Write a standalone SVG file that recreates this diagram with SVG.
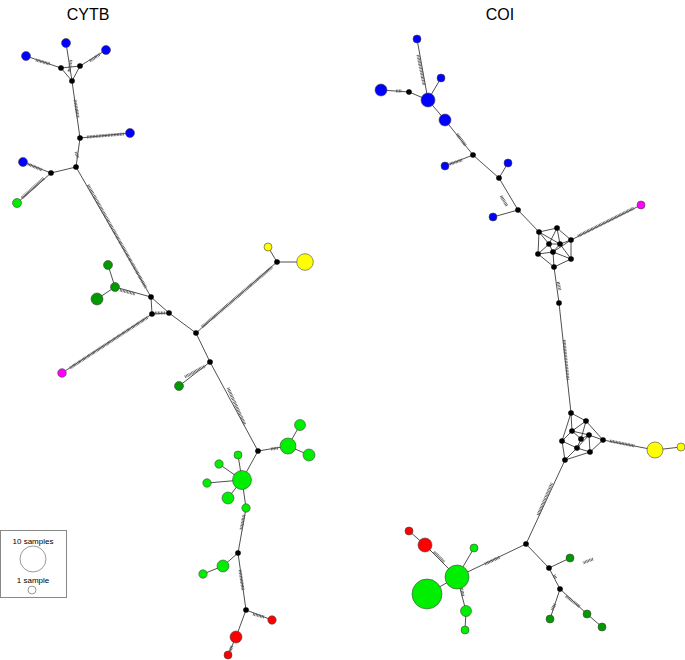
<svg xmlns="http://www.w3.org/2000/svg" width="685" height="660" viewBox="0 0 685 660">
<style>
.e{stroke:#222;stroke-width:0.8;fill:none}
.h{stroke:#555;stroke-width:3;stroke-dasharray:0.8 0.7;fill:none}
.n{stroke:#444;stroke-width:0.6}
.k{fill:#000}.b{fill:#0000ff}.g{fill:#00ee00}.d{fill:#009900}.y{fill:#ffff00}.r{fill:#ff0000}.m{fill:#ff00ff}
text{font-family:"Liberation Sans",Arial,sans-serif;fill:#000}
</style>
<rect width="685" height="660" fill="#fff"/>
<text x="88" y="20" font-size="16" text-anchor="middle">CYTB</text>
<text x="500" y="20" font-size="16" text-anchor="middle">COI</text>
<g id="connectors">
<path class="e" d="M26,56L61,68L80,66L106,50M61,68L72,81L80,66M66,43L72,81L80,138L130,133M80,138L76,167L51,173L23,162M51,173L17,203M76,167L151,297L115,287L108,265M115,287L97,299M151,297L152,314L169,313L151,297M152,314L62,373M169,313L196,333L277,262L268,247M277,262L305,262M196,333L210,362L179,386M210,362L258,451L288,446L300,425M288,446L309,455M258,451L242,480L238,455M242,480L219,464M242,480L207,483M242,480L228,498M242,480L246,508L238,553L223,566L203,574M238,553L246,610L272,620M246,610L236,637L228,655"/>
<path class="h" d="M36,60L50,64M71,60L69,72M90,61L100,54M75,100L78,118M87,137L124,134M76,152L78,158M28,164L42,170M22,198L44,178M88,185L146,288M120,290L135,294M70,368L148,317M155,313L165,313M202,327L272,267M185,377L205,366M228,388L245,425M271,449L278,448M244,515L241,530M240,570L243,590M253,614L264,617M232,646L230,651"/>
<path class="e" d="M417,39L428,100L441,78M381,90L409,92L428,100L445,120L473,155L445,166M473,155L499,178L508,163M499,178L518,210L493,217M518,210L539,232M539,232L557,228L571,240L571,259L554,267L538,254L539,232M539,232L549,244L560,244L557,228M549,244L553,252L560,244L571,240M553,252L554,267M553,252L538,254M549,244L538,254M560,244L571,259M557,228L549,244M571,240L553,252M539,232L560,244M571,259L553,252M571,240L641,205M554,267L559,303L571,413M571,413L586,421L603,440L590,452L565,460L562,441L571,413M571,413L572,431L586,421M572,431L589,435L603,440M572,431L581,439L577,448L565,460M562,441L577,448L590,452M581,439L589,435L590,452M562,441L572,431M586,421L581,439M589,435L577,448M603,440L655,450L681,447M565,460L526,544L457,577L425,545L409,531M457,577L474,548M457,577L427,594M457,577L466,611L465,630M526,544L549,568L570,558M549,568L560,589L550,619M560,589L587,614L602,627"/>
<path class="h" d="M418,55L424,85M396,91L402,91M457,134L466,146M450,164L462,160M501,196L507,206M520,545" />
<path class="h" d="M578,236L634,208M558,282L560,290M564,340L568,380M610,441L635,446M538,515L552,483M485,564L500,557M434,552L444,562M461,585L463,596M554,575L556,579M593,559L583,563M555,604L552,610M566,596L580,607"/>
</g>
<g id="nodes">
<g id="c1"><circle class="n b" cx="26" cy="56" r="4.5"/><circle class="n b" cx="66" cy="43" r="4.5"/><circle class="n b" cx="106" cy="50" r="4.5"/><circle class="n b" cx="130" cy="133" r="4.5"/><circle class="n b" cx="23" cy="162" r="4.5"/><circle class="n g" cx="17" cy="203" r="4.5"/>
<circle class="k" cx="61" cy="68" r="2.8"/><circle class="k" cx="80" cy="66" r="2.8"/><circle class="k" cx="72" cy="81" r="2.8"/><circle class="k" cx="80" cy="138" r="2.8"/><circle class="k" cx="76" cy="167" r="2.8"/><circle class="k" cx="51" cy="173" r="2.8"/><circle class="k" cx="151" cy="297" r="2.8"/><circle class="k" cx="152" cy="314" r="2.8"/><circle class="k" cx="169" cy="313" r="2.8"/><circle class="k" cx="196" cy="333" r="2.8"/><circle class="k" cx="277" cy="262" r="2.8"/><circle class="k" cx="210" cy="362" r="2.8"/><circle class="k" cx="258" cy="451" r="2.8"/><circle class="k" cx="238" cy="553" r="2.8"/><circle class="k" cx="246" cy="610" r="2.8"/>
<circle class="n d" cx="108" cy="265" r="4.5"/><circle class="n d" cx="115" cy="287" r="4.5"/><circle class="n d" cx="97" cy="299" r="6"/><circle class="n d" cx="179" cy="386" r="4.5"/>
<circle class="n y" cx="268" cy="247" r="4"/><circle class="n y" cx="305" cy="262" r="8.3"/><circle class="n m" cx="62" cy="373" r="4.3"/>
<circle class="n g" cx="288" cy="446" r="8"/><circle class="n g" cx="300" cy="425" r="5.5"/><circle class="n g" cx="309" cy="455" r="6"/><circle class="n g" cx="242" cy="480" r="9.5"/><circle class="n g" cx="238" cy="455" r="4"/><circle class="n g" cx="219" cy="464" r="4.2"/><circle class="n g" cx="207" cy="483" r="4.2"/><circle class="n g" cx="228" cy="498" r="6"/><circle class="n g" cx="246" cy="508" r="4.2"/><circle class="n g" cx="223" cy="566" r="6"/><circle class="n g" cx="203" cy="574" r="4.2"/>
<circle class="n r" cx="272" cy="620" r="4.2"/><circle class="n r" cx="236" cy="637" r="6"/><circle class="n r" cx="228" cy="655" r="4"/></g>
<g id="legend"><rect x="0.5" y="530.5" width="66" height="67" fill="#fff" stroke="#888"/><text x="33" y="544" font-size="8" text-anchor="middle">10 samples</text><circle cx="33" cy="559" r="13" fill="#fff" stroke="#555" stroke-width="0.6"/><text x="33" y="583" font-size="8" text-anchor="middle">1 sample</text><circle cx="32" cy="590" r="4" fill="#fff" stroke="#555" stroke-width="0.6"/></g>
<g id="c2"><circle class="n b" cx="417" cy="39" r="4"/><circle class="n b" cx="428" cy="100" r="7"/><circle class="n b" cx="441" cy="78" r="4"/><circle class="n b" cx="381" cy="90" r="6"/><circle class="n b" cx="445" cy="120" r="6"/><circle class="n b" cx="445" cy="166" r="4"/><circle class="n b" cx="508" cy="163" r="4"/><circle class="n b" cx="493" cy="217" r="4"/><circle class="n m" cx="641" cy="205" r="4"/>
<circle class="k" cx="409" cy="92" r="2.8"/><circle class="k" cx="473" cy="155" r="2.8"/><circle class="k" cx="499" cy="178" r="2.8"/><circle class="k" cx="518" cy="210" r="2.8"/>
<circle class="k" cx="539" cy="232" r="2.8"/><circle class="k" cx="557" cy="228" r="2.8"/><circle class="k" cx="571" cy="240" r="2.8"/><circle class="k" cx="571" cy="259" r="2.8"/><circle class="k" cx="554" cy="267" r="2.8"/><circle class="k" cx="538" cy="254" r="2.8"/><circle class="k" cx="549" cy="244" r="2.8"/><circle class="k" cx="560" cy="244" r="2.8"/><circle class="k" cx="553" cy="252" r="2.8"/><circle class="k" cx="559" cy="303" r="2.8"/>
<circle class="k" cx="571" cy="413" r="2.8"/><circle class="k" cx="586" cy="421" r="2.8"/><circle class="k" cx="603" cy="440" r="2.8"/><circle class="k" cx="590" cy="452" r="2.8"/><circle class="k" cx="565" cy="460" r="2.8"/><circle class="k" cx="562" cy="441" r="2.8"/><circle class="k" cx="572" cy="431" r="2.8"/><circle class="k" cx="589" cy="435" r="2.8"/><circle class="k" cx="577" cy="448" r="2.8"/><circle class="k" cx="581" cy="439" r="2.8"/>
<circle class="k" cx="526" cy="544" r="2.8"/><circle class="k" cx="549" cy="568" r="2.8"/><circle class="k" cx="560" cy="589" r="2.8"/>
<circle class="n y" cx="655" cy="450" r="8"/><circle class="n y" cx="681" cy="447" r="4"/>
<circle class="n g" cx="457" cy="577" r="12"/><circle class="n g" cx="427" cy="594" r="15"/><circle class="n g" cx="474" cy="548" r="4"/><circle class="n g" cx="466" cy="611" r="5.5"/><circle class="n g" cx="465" cy="630" r="4"/>
<circle class="n r" cx="425" cy="545" r="7"/><circle class="n r" cx="409" cy="531" r="4"/>
<circle class="n d" cx="570" cy="558" r="4"/><circle class="n d" cx="550" cy="619" r="4"/><circle class="n d" cx="587" cy="614" r="4"/><circle class="n d" cx="602" cy="627" r="4"/></g>
</g>
</svg>
